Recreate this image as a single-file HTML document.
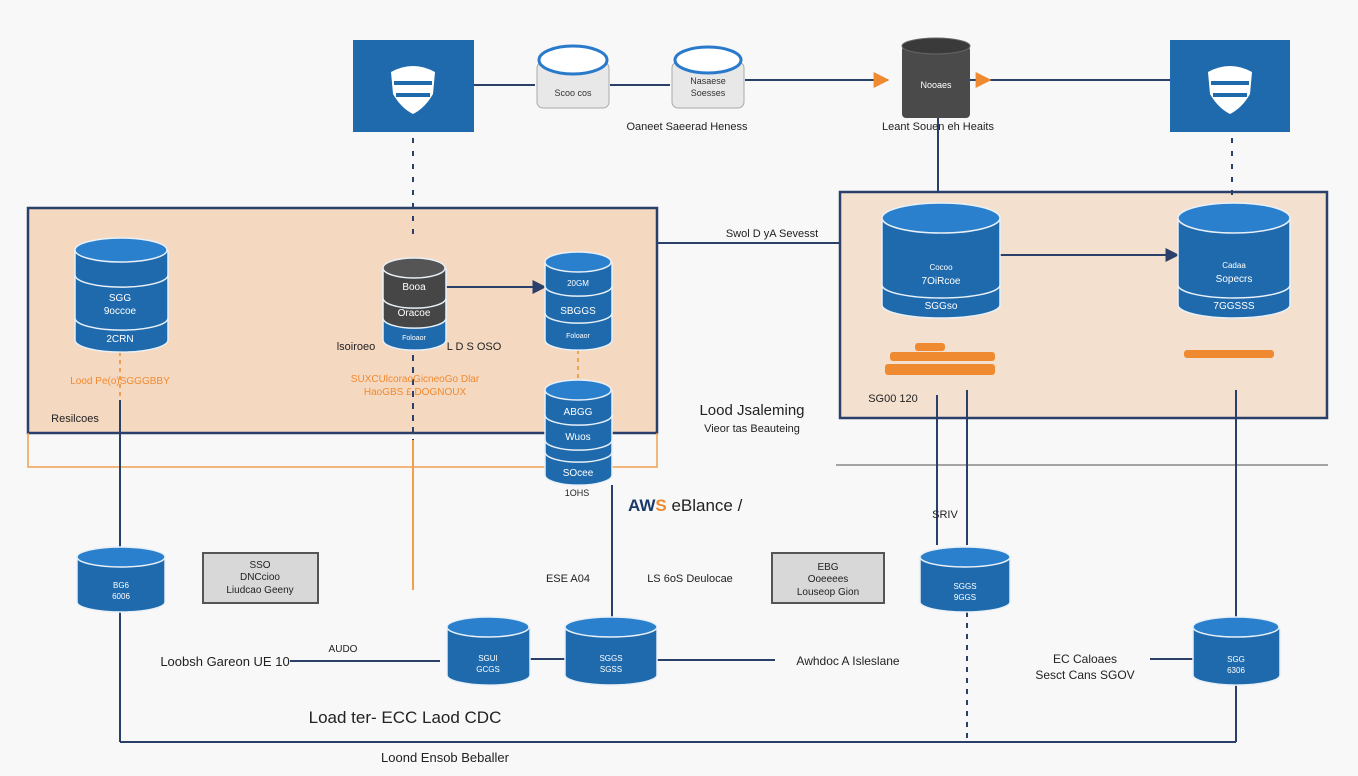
<!DOCTYPE html>
<html><head><meta charset="utf-8"><style>
html,body{margin:0;padding:0;background:#f8f8f8;}
svg{display:block;font-family:"Liberation Sans",sans-serif;}
</style></head><body>
<svg width="1358" height="776" viewBox="0 0 1358 776" xmlns="http://www.w3.org/2000/svg">
<defs>
<marker id="ar" viewBox="0 0 10 10" refX="9" refY="5" markerWidth="7" markerHeight="7" orient="auto"><path d="M0,0L10,5L0,10z" fill="#2a3f6a"/></marker>
<marker id="ao" viewBox="0 0 10 10" refX="9" refY="5" markerWidth="8" markerHeight="8" orient="auto"><path d="M0,0L10,5L0,10z" fill="#f08a30"/></marker>
</defs>
<rect width="1358" height="776" fill="#f8f8f8"/>

<rect x="28" y="208" width="629" height="225" fill="#f5d8c0" stroke="#2a3f6a" stroke-width="2.5"/>
<path d="M28,433 V467 H657 V433" fill="none" stroke="#f0a050" stroke-width="1.5"/>
<rect x="840" y="192" width="487" height="226" fill="#f3e0cf" stroke="#2a3f6a" stroke-width="2.5"/>
<line x1="836" y1="465" x2="1328" y2="465" stroke="#888" stroke-width="1.5"/>

<g stroke="#2a3f6a" stroke-width="2" fill="none">
<line x1="474" y1="85" x2="535" y2="85"/>
<line x1="610" y1="85" x2="670" y2="85"/>
<line x1="745" y1="80" x2="888" y2="80" marker-end="url(#ao)"/>
<line x1="970" y1="80" x2="1170" y2="80"/>
<line x1="413" y1="138" x2="413" y2="240" stroke-dasharray="5,8"/>
<line x1="1232" y1="138" x2="1232" y2="200" stroke-dasharray="5,8"/>
<line x1="938" y1="118" x2="938" y2="192"/>
<line x1="657" y1="243" x2="840" y2="243"/>
<line x1="446" y1="287" x2="545" y2="287" marker-end="url(#ar)"/>
<line x1="1000" y1="255" x2="1178" y2="255" marker-end="url(#ar)"/>
<line x1="120" y1="400" x2="120" y2="547"/>
<line x1="120" y1="612" x2="120" y2="742"/>
<line x1="120" y1="742" x2="1236" y2="742"/>
<line x1="612" y1="485" x2="612" y2="617"/>
<line x1="937" y1="395" x2="937" y2="545"/>
<line x1="967" y1="390" x2="967" y2="545"/>
<line x1="1236" y1="390" x2="1236" y2="617"/>
<line x1="1236" y1="685" x2="1236" y2="742"/>
<line x1="967" y1="612" x2="967" y2="742" stroke-dasharray="5,6"/>
<line x1="413" y1="440" x2="413" y2="590" stroke="#f0a050"/>
<line x1="413" y1="355" x2="413" y2="440" stroke-dasharray="6,6"/>
<line x1="290" y1="661" x2="440" y2="661"/>
<line x1="530" y1="659" x2="565" y2="659"/>
<line x1="657" y1="660" x2="775" y2="660"/>
<line x1="1150" y1="659" x2="1193" y2="659"/>
<line x1="120" y1="352" x2="120" y2="400" stroke="#f0a050" stroke-dasharray="4,4"/>
<line x1="578" y1="350" x2="578" y2="380" stroke="#f0a050" stroke-dasharray="4,4"/>
</g>
<path d="M980,80 h10" stroke="#f08a30" stroke-width="2" marker-end="url(#ao)"/>

<g>
<rect x="353" y="40" width="121" height="92" fill="#1f6aad"/>
<rect x="1170" y="40" width="120" height="92" fill="#1f6aad"/>
<g fill="#fff">
<path d="M391,72 Q413,60 435,72 L433,94 Q425,108 413,114 Q401,108 393,94 Z"/>
<path d="M1208,72 Q1230,60 1252,72 L1250,94 Q1242,108 1230,114 Q1218,108 1210,94 Z"/>
</g>
<g stroke="#1f6aad" stroke-width="4">
<line x1="394" y1="83" x2="432" y2="83"/><line x1="396" y1="95" x2="430" y2="95"/>
<line x1="1211" y1="83" x2="1249" y2="83"/><line x1="1213" y1="95" x2="1247" y2="95"/>
</g>
</g>

<g>
<rect x="537" y="62" width="72" height="46" rx="6" fill="#e8e8e8" stroke="#aaa"/>
<ellipse cx="573" cy="60" rx="34" ry="14" fill="#fff" stroke="#2a7acc" stroke-width="3"/>
<text x="573" y="96" font-size="9" text-anchor="middle" fill="#333">Scoo cos</text>
<rect x="672" y="62" width="72" height="46" rx="6" fill="#e8e8e8" stroke="#aaa"/>
<ellipse cx="708" cy="60" rx="33" ry="13" fill="#fff" stroke="#2a7acc" stroke-width="3"/>
<text x="708" y="84" font-size="9" text-anchor="middle" fill="#333">Nasaese</text>
<text x="708" y="96" font-size="9" text-anchor="middle" fill="#333">Soesses</text>
<rect x="902" y="46" width="68" height="72" rx="4" fill="#4a4a4a"/>
<ellipse cx="936" cy="46" rx="34" ry="8" fill="#3a3a3a" stroke="#666"/>
<text x="936" y="88" font-size="9" text-anchor="middle" fill="#fff">Nooaes</text>
</g>

<g stroke="#e8f0f8" stroke-width="1.5">
<path d="M75,250 V340 A46,12 0 0 0 168,340 V250" fill="#1f6aad"/><ellipse cx="121" cy="250" rx="46" ry="12" fill="#2a80cc"/>
<path d="M75,275 A46,12 0 0 0 168,275 M75,318 A46,12 0 0 0 168,318" fill="none"/>
<path d="M383,268 V340 A31,10 0 0 0 446,340 V268" fill="#1f6aad"/><path d="M383,268 V318 A31,10 0 0 0 446,318 V268" fill="#464646"/><ellipse cx="414" cy="268" rx="31" ry="10" fill="#555"/>
<path d="M383,298 A31,10 0 0 0 446,298" fill="none"/>
<path d="M545,262 V340 A33,10 0 0 0 612,340 V262" fill="#1f6aad"/><ellipse cx="578" cy="262" rx="33" ry="10" fill="#2a80cc"/>
<path d="M545,286 A33,10 0 0 0 612,286 M545,313 A33,10 0 0 0 612,313" fill="none"/>
<path d="M545,390 V475 A33,10 0 0 0 612,475 V390" fill="#1f6aad"/><ellipse cx="578" cy="390" rx="33" ry="10" fill="#2a80cc"/>
<path d="M545,415 A33,10 0 0 0 612,415 M545,440 A33,10 0 0 0 612,440 M545,452 A33,10 0 0 0 612,452" fill="none"/>
<path d="M882,218 V305 A59,13 0 0 0 1000,305 V218" fill="#1f6aad"/><ellipse cx="941" cy="218" rx="59" ry="15" fill="#2a80cc"/>
<path d="M882,285 A59,13 0 0 0 1000,285" fill="none"/>
<path d="M1178,218 V305 A56,13 0 0 0 1290,305 V218" fill="#1f6aad"/><ellipse cx="1234" cy="218" rx="56" ry="15" fill="#2a80cc"/>
<path d="M1178,285 A56,13 0 0 0 1290,285" fill="none"/>
<path d="M77,557 V602 A44,10 0 0 0 165,602 V557" fill="#1f6aad"/><ellipse cx="121" cy="557" rx="44" ry="10" fill="#2a80cc"/>
<path d="M447,627 V675 A41,10 0 0 0 530,675 V627" fill="#1f6aad"/><ellipse cx="488" cy="627" rx="41" ry="10" fill="#2a80cc"/>
<path d="M565,627 V675 A46,10 0 0 0 657,675 V627" fill="#1f6aad"/><ellipse cx="611" cy="627" rx="46" ry="10" fill="#2a80cc"/>
<path d="M920,557 V602 A45,10 0 0 0 1010,602 V557" fill="#1f6aad"/><ellipse cx="965" cy="557" rx="45" ry="10" fill="#2a80cc"/>
<path d="M1193,627 V675 A43,10 0 0 0 1280,675 V627" fill="#1f6aad"/><ellipse cx="1236" cy="627" rx="43" ry="10" fill="#2a80cc"/>
</g>

<g fill="#f08a30">
<rect x="890" y="352" width="105" height="9" rx="3"/>
<rect x="885" y="364" width="110" height="11" rx="3"/>
<rect x="915" y="343" width="30" height="8" rx="3"/>
<rect x="1184" y="350" width="90" height="8" rx="3"/>
</g>

<rect x="203" y="553" width="115" height="50" fill="#d8d8d8" stroke="#555" stroke-width="2"/>
<rect x="772" y="553" width="112" height="50" fill="#d8d8d8" stroke="#555" stroke-width="2"/>

<g font-size="10" fill="#fff" text-anchor="middle">
<text x="120" y="301">SGG</text><text x="120" y="314">9occoe</text><text x="120" y="342">2CRN</text>
<text x="414" y="290">Booa</text><text x="414" y="316">Oracoe</text><text x="414" y="340" font-size="7">Foloaor</text>
<text x="578" y="286" font-size="8">20GM</text><text x="578" y="314">SBGGS</text><text x="578" y="338" font-size="7">Foloaor</text>
<text x="578" y="415">ABGG</text><text x="578" y="440">Wuos</text><text x="578" y="476">SOcee</text>
<text x="941" y="270" font-size="8">Cocoo</text><text x="941" y="284">7OiRcoe</text><text x="941" y="309">SGGso</text>
<text x="1234" y="268" font-size="8">Cadaa</text><text x="1234" y="282">Sopecrs</text><text x="1234" y="309">7GGSSS</text>
<text x="121" y="588" font-size="8">BG6</text><text x="121" y="599" font-size="8">6006</text>
<text x="488" y="661" font-size="8">SGUI</text><text x="488" y="672" font-size="8">GCGS</text>
<text x="611" y="661" font-size="8">SGGS</text><text x="611" y="672" font-size="8">SGSS</text>
<text x="965" y="589" font-size="8">SGGS</text><text x="965" y="600" font-size="8">9GGS</text>
<text x="1236" y="662" font-size="8">SGG</text><text x="1236" y="673" font-size="8">6306</text>
</g>
<g font-size="11" fill="#222" text-anchor="middle">
<text x="687" y="130">Oaneet Saeerad Heness</text>
<text x="938" y="130">Leant Souen eh Heaits</text>
<text x="772" y="237">Swol D yA Sevesst</text>
<text x="75" y="422">Resilcoes</text>
<text x="356" y="350">lsoiroeo</text>
<text x="474" y="350">L D S OSO</text>
<text x="577" y="496" font-size="9">1OHS</text>
<text x="893" y="402">SG00 120</text>
<text x="752" y="415" font-size="15">Lood Jsaleming</text>
<text x="752" y="432">Vieor tas Beauteing</text>
<text x="945" y="518">SRIV</text>
<text x="568" y="582">ESE A04</text>
<text x="690" y="582">LS 6oS Deulocae</text>
<text x="343" y="652" font-size="10">AUDO</text>
<text x="225" y="666" font-size="13">Loobsh Gareon UE 10</text>
<text x="848" y="665" font-size="12">Awhdoc A Isleslane</text>
<text x="405" y="723" font-size="17">Load ter- ECC Laod CDC</text>
<text x="445" y="762" font-size="13">Loond Ensob Beballer</text>
<text x="1085" y="663" font-size="12">EC Caloaes</text>
<text x="1085" y="679" font-size="12">Sesct Cans SGOV</text>
<text x="260" y="568" font-size="10">SSO</text><text x="260" y="580" font-size="10">DNCcioo</text><text x="260" y="593" font-size="10">Liudcao Geeny</text>
<text x="828" y="570" font-size="10">EBG</text><text x="828" y="582" font-size="10">Ooeeees</text><text x="828" y="595" font-size="10">Louseop Gion</text>
</g>
<g font-size="10" fill="#f08a30" text-anchor="middle">
<text x="120" y="384">Lood Pe(o)SGGGBBY</text>
<text x="415" y="382">SUXCUlcoraoGicneoGo Dlar</text>
<text x="415" y="395">HaoGBS £ DOGNOUX</text>
</g>
<text x="628" y="511" font-size="17" font-weight="bold" fill="#1a3a6a">AW<tspan fill="#f08a30">S</tspan><tspan font-weight="normal" fill="#222"> eBlance /</tspan></text>
</svg>
</body></html>
